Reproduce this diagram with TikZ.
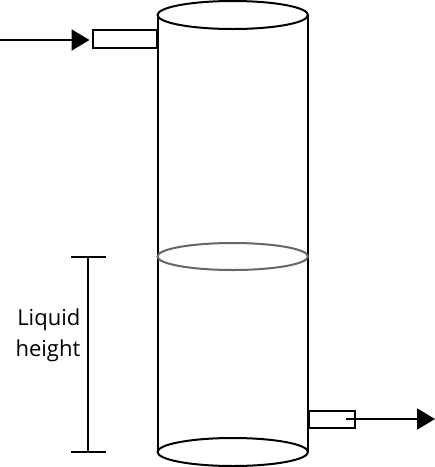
\documentclass[tikz,border=0pt]{standalone}
\usepackage{fontspec}
\setmainfont{Open Sans}
\usetikzlibrary{arrows.meta}
\tikzset{
  ln/.style={draw=black,line width=2pt},
  flow/.style={ln,-{Triangle[length=18pt,width=21pt]}},
  pipe/.style={ln,fill=white,minimum height=0pt,minimum width=0pt,inner sep=0pt,rectangle},
  lbl/.style={font=\fontsize{22}{31}\selectfont,align=right,anchor=east,inner sep=0pt,text=black}
}
\begin{document}
\begin{tikzpicture}[x=1pt,y=-1pt]
\useasboundingbox (0,0) rectangle (435,467);
% vessel
\coordinate (tl) at (157.5,15);
\coordinate (tr) at (308,15);
\coordinate (bl) at (157.5,452);
\coordinate (br) at (308,452);
\draw[ln] (tl) -- (bl);
\draw[ln] (tr) -- (br);
\draw[ln] (232.75,15) ellipse [x radius=75.25,y radius=14];
\draw[ln] (232.75,452) ellipse [x radius=75.25,y radius=14];
\draw[ln,draw=black!60!white] (232.75,256.5) ellipse [x radius=75.25,y radius=13.5];
% inlet
\node[pipe,minimum width=64.5pt,minimum height=18.5pt] (inlet) at (124.75,38.75) {};
\coordinate (src) at (0,40);
\coordinate (inend) at (89.5,40);
\draw[flow] (src) -- (inend);
% outlet
\node[pipe,minimum width=46pt,minimum height=17pt] (outlet) at (332,419) {};
\coordinate (ostart) at (346,419);
\coordinate (oend) at (435,419);
\draw[flow] (ostart) -- (oend);
% bracket
\coordinate (ct) at (88,256.5);
\coordinate (cb) at (88,452);
\coordinate (ctl) at (71,256.5);
\coordinate (ctr) at (106,256.5);
\coordinate (cbl) at (71,452);
\coordinate (cbr) at (106,452);
\draw[ln] (ct) -- (cb);
\draw[ln] (ctl) -- (ctr);
\draw[ln] (cbl) -- (cbr);
\node[lbl] (label) at (80.5,335.5) {Liquid\\height};
\end{tikzpicture}
\end{document}
